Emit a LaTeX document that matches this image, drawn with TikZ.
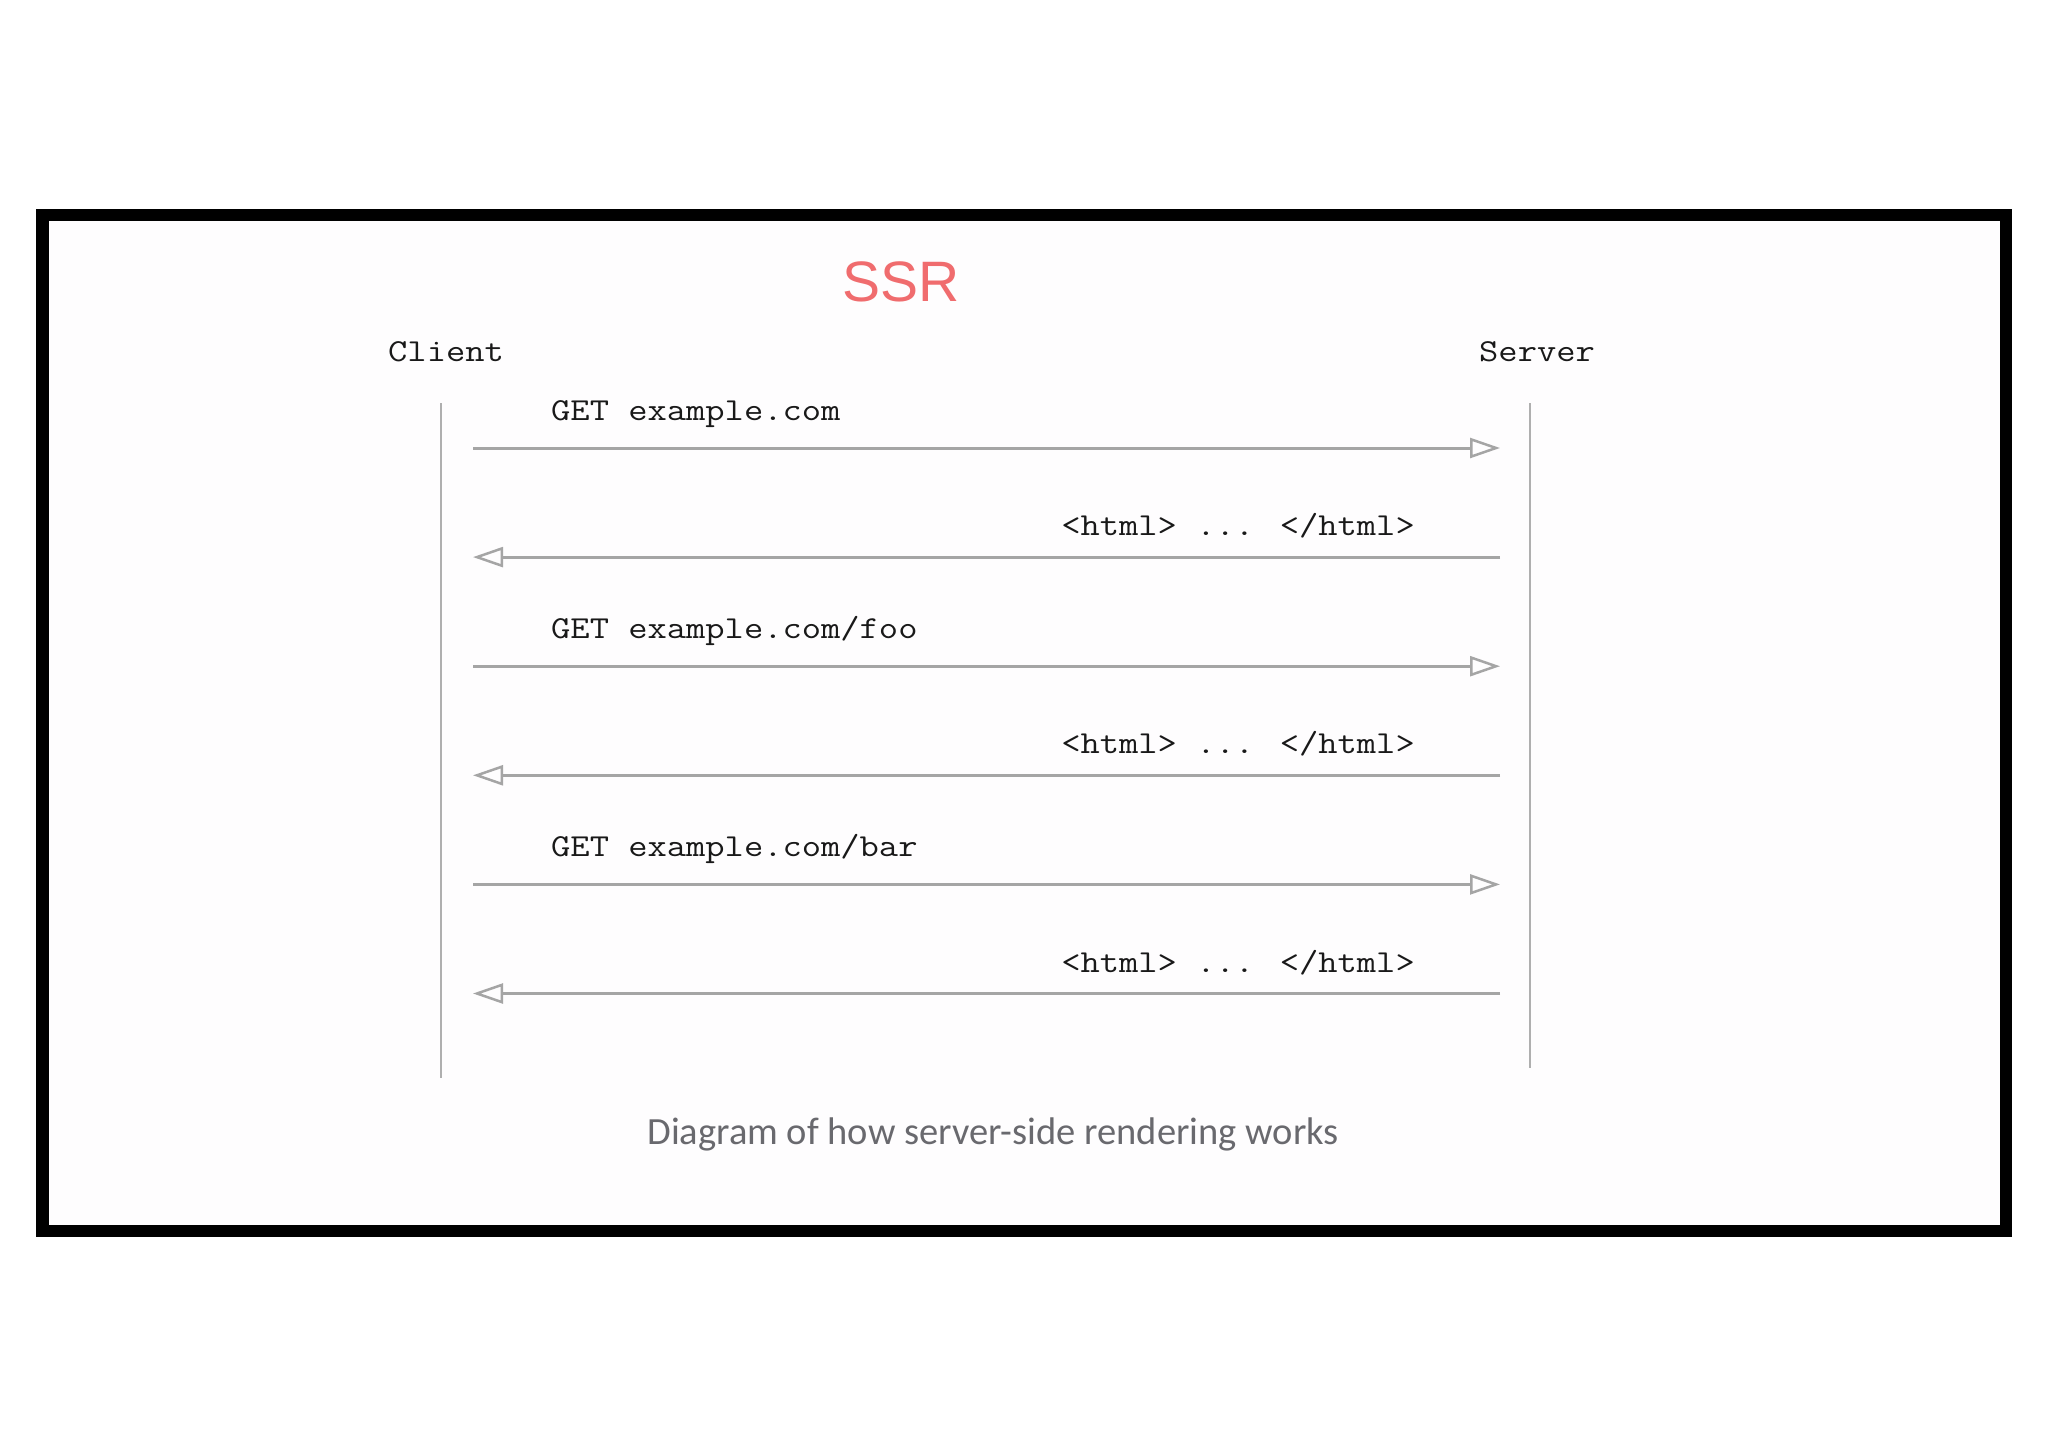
\documentclass[tikz,border=0pt]{standalone}
\usepackage{fontspec}
\newfontfamily\ssrfont{Liberation Sans}
\newfontfamily\capfont{Carlito}
\usetikzlibrary{arrows.meta}
\definecolor{ssrred}{RGB}{240,108,110}
\definecolor{linegray}{RGB}{165,165,165}
\definecolor{lifegray}{RGB}{175,175,175}
\definecolor{txtdark}{RGB}{25,25,25}
\definecolor{capgray}{RGB}{105,105,110}
\definecolor{inbg}{RGB}{254,253,254}
\newcommand{\mono}[1]{\scalebox{1.17}[1]{#1}}
\begin{document}
\begin{tikzpicture}[x=1pt,y=-1pt,
  framebox/.style={line width=12.5pt, draw=black, fill=inbg},
  ssrtitle/.style={font=\ssrfont\fontsize{57}{57}\selectfont, text=ssrred, inner sep=0pt},
  actor/.style={font=\ttfamily\fontsize{32}{32}\selectfont, text=txtdark, inner sep=0pt},
  msglbl/.style={font=\ttfamily\fontsize{32}{32}\selectfont, text=txtdark, inner sep=0pt},
  captext/.style={font=\capfont\fontsize{38.5}{38.5}\selectfont, text=capgray, inner sep=0pt},
  life/.style={line width=2.5pt, draw=lifegray},
  msg/.style={line width=3pt, draw=linegray, -{Triangle[open, length=30pt, width=20pt, line width=2.5pt]}}
]
\fill[white] (0,0) rectangle (2048,1447);
\useasboundingbox (0,0) rectangle (2048,1447);
\draw[framebox] (42.25,215.25) rectangle (2005.75,1230.75);

\node[ssrtitle] (title) at (901,282) {SSR};
\node[actor, anchor=base west] (client) at (388,361) {\mono{Client}};
\node[actor, anchor=base west] (server) at (1479,361) {\mono{Server}};

\coordinate (ctop) at (441,403);
\coordinate (cbot) at (441,1078);
\coordinate (stop) at (1530,403);
\coordinate (sbot) at (1530,1068);
\draw[life] (ctop) -- (cbot);
\draw[life] (stop) -- (sbot);

\foreach \i/\y in {1/448,2/557.1,3/666.2,4/775.3,5/884.4,6/993.5}{
  \coordinate (a\i) at (473,\y);
  \coordinate (b\i) at (1500,\y);
}
\draw[msg] (a1) -- (b1);
\draw[msg] (b2) -- (a2);
\draw[msg] (a3) -- (b3);
\draw[msg] (b4) -- (a4);
\draw[msg] (a5) -- (b5);
\draw[msg] (b6) -- (a6);

\node[msglbl, anchor=base west] (m1) at (551,420) {\mono{GET example.com}};
\node[msglbl, anchor=base east] (m2) at (1415,535.6) {\mono{<html> ... </html>}};
\node[msglbl, anchor=base west] (m3) at (551,638.2) {\mono{GET example.com/foo}};
\node[msglbl, anchor=base east] (m4) at (1415,753.8) {\mono{<html> ... </html>}};
\node[msglbl, anchor=base west] (m5) at (551,856.4) {\mono{GET example.com/bar}};
\node[msglbl, anchor=base east] (m6) at (1415,972) {\mono{<html> ... </html>}};

\node[captext, anchor=base] (caption) at (993,1144) {Diagram of how server-side rendering works};
\end{tikzpicture}
\end{document}
